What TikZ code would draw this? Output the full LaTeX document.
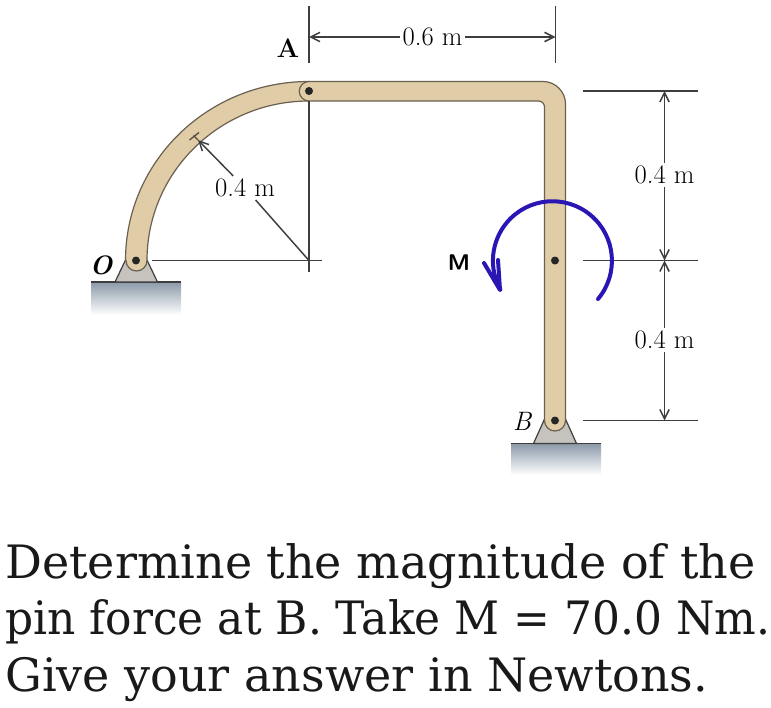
\documentclass[tikz,border=0pt]{standalone}
\usepackage{fontspec}
\newfontfamily\captionfont{DejaVu Serif}
\newfontfamily\captiontight[FakeStretch=0.955]{DejaVu Serif}
\usetikzlibrary{arrows.meta, calc}
\definecolor{barfill}{HTML}{E0CDA8}
\definecolor{baredge}{HTML}{6A6050}
\definecolor{pinfill}{HTML}{C6C3BF}
\definecolor{groundtop}{HTML}{8C9AA9}
\definecolor{dimline}{HTML}{3E3E3E}
\definecolor{momentblue}{HTML}{2A16B4}
\tikzset{
	barstyle/.style={fill=barfill, draw=baredge, line width=0.9pt},
	pinbase/.style={fill=pinfill, draw=dimline, line width=0.9pt},
	pindot/.style={fill=black!85},
	groundbox/.style={top color=groundtop, bottom color=white, draw=none},
	groundline/.style={draw=dimline, line width=1.4pt},
	dimthin/.style={draw=dimline, line width=1.1pt},
	dimarrow/.style={dimthin, -{Straight Barb[length=7pt,width=7pt]}},
	dimtext/.style={font=\fontsize{20}{24}\selectfont, text=black, inner sep=2pt},
	momentline/.style={draw=momentblue, line width=3pt, line cap=round, line join=round},
	captionline/.style={font=\fontsize{34.5}{40}\selectfont, text=black!90, anchor=base west, inner sep=0pt},
}
\begin{document}
\begin{tikzpicture}[x=0.75pt, y=-0.75pt]
	\useasboundingbox (0,0) rectangle (771,707);
	\def\pr{10.5}
	\def\dotr{4}
	\coordinate (O) at (136,260.5);
	\coordinate (A) at (309,91);
	\coordinate (B) at (555,420.5);
	\coordinate (C) at (555,260.5);
	\coordinate (Cn) at (309,260.5);

	% ground and supports
	\fill[groundbox] (91,282) rectangle (181,315);
	\fill[groundbox] (511,443.5) rectangle (601,475);
	\draw[groundline] (91,282) -- (181,282);
	\draw[groundline] (511,443.5) -- (601,443.5);
	\draw[pinbase] (115,282) -- (126.5,258) -- (146,258) -- (157.5,282) -- cycle;
	\draw[pinbase] (533.5,443.5) -- (545,418) -- (565,418) -- (576.5,443.5) -- cycle;

	% members
	\draw[barstyle] (125.5,260.5) arc [start angle=180, end angle=270, x radius=183.5, y radius=179]
		-- (309,101) arc [start angle=270, end angle=180, x radius=162, y radius=159.5]
		arc [start angle=0, end angle=180, radius=\pr] -- cycle;
	\draw[barstyle] (309,81.5) -- (543,81.5) arc [start angle=270, end angle=360, radius=22.5]
		-- (565.5,420.5) arc [start angle=0, end angle=180, radius=\pr]
		-- (544.5,107) arc [start angle=0, end angle=-90, radius=6]
		-- (309,101) arc [start angle=90, end angle=270, radius=9.75] -- cycle;
	\fill[pindot] (O) circle [radius=\dotr];
	\fill[pindot] (A) circle [radius=\dotr];
	\fill[pindot] (B) circle [radius=\dotr];
	\fill[pindot] (C) circle [radius=\dotr];

	% labels
	\node[font=\fontsize{20}{24}\selectfont\bfseries, inner sep=0pt] (labA) at (288,48) {A};
	\node[font=\fontsize{20}{24}\selectfont\bfseries\itshape, inner sep=0pt] (labO) at (101,265) {O};
	\node[font=\fontsize{20}{24}\selectfont\itshape, inner sep=0pt] (labB) at (522,421) {B};
	\node[font=\fontsize{17}{18}\selectfont\sffamily\bfseries, inner sep=0pt] (labM) at (459,263) {M};
	\node[dimtext] (dimtop) at (432.5,37) {0.6 m};
	\node[dimtext] (dimrad) at (245,188) {0.4 m};
	\node[dimtext] (dimup) at (664.5,175) {0.4 m};
	\node[dimtext] (dimlow) at (664.5,340) {0.4 m};

	% extension lines
	\draw[dimthin] (309,6) -- (309,63);
	\draw[dimthin] (555.5,6) -- (555.5,63);
	\draw[dimthin] (A) ++(0,10) -- (309,272);
	\draw[dimthin] (152,260.5) -- (322,260.5);
	\draw[dimthin] (583,91) -- (698,91);
	\draw[dimthin] (583,260.5) -- (698,260.5);
	\draw[dimthin] (583,420.5) -- (698,420.5);

	% dimensions
	\draw[dimarrow] (dimtop) -- (309,37);
	\draw[dimarrow] (dimtop) -- (555.5,37);
	\draw[dimarrow] (dimup) -- (664.5,91);
	\draw[dimarrow] (dimup) -- (664.5,260.5);
	\draw[dimarrow] (dimlow) -- (664.5,260.5);
	\draw[dimarrow] (dimlow) -- (664.5,420.5);
	\draw[dimthin] (Cn) -- (dimrad);
	\draw[dimarrow] (dimrad) -- (198,140);
	\draw[baredge!80!black, line width=1pt] (189.5,140) -- (199,132.5);
	\draw[baredge!80!black, line width=1pt] (193.5,135.5) -- (198,140);

	% moment
	\coordinate (Mtip) at (500,290);
	\draw[momentline] (598,299) arc [start angle=40, end angle=-209, radius=59.5];
	\draw[momentline] (484,263) -- (Mtip) -- (498,260);

	% caption
	\node[captionline] (line1) at (5,578) {\captionfont Determine the magnitude of the};
	\node[captionline] (line2) at (5,634) {\captiontight pin force at B. Take M = 70.0 Nm.};
	\node[captionline] (line3) at (5,691) {\captionfont Give your answer in Newtons.};
\end{tikzpicture}
\end{document}
